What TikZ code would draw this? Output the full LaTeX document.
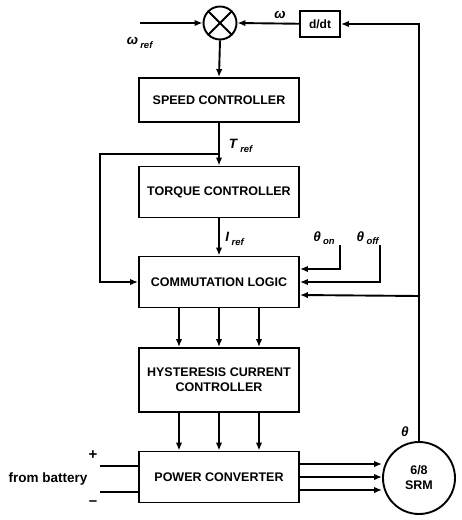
\documentclass[tikz,border=0pt]{standalone}
\usepackage{fontspec}
\setmainfont{Liberation Sans}
\usetikzlibrary{arrows.meta,positioning}

\newcommand{\sig}[2]{\textbf{\textit{#1}}\,\raisebox{-0.5ex}{\fontsize{9.5}{10}\selectfont\textbf{\textit{#2}}}}

\begin{document}
\begin{tikzpicture}[x=1pt,y=-1pt,->,>={Latex[length=8pt,width=6.5pt]},line width=1.9pt,
  font=\fontsize{12.5}{15}\selectfont\bfseries,
  block/.style={draw,rectangle,minimum width=160pt,minimum height=51pt,align=center,inner sep=2pt},
  lbl/.style={inner sep=1pt,font=\fontsize{13.5}{14}\selectfont}]

\useasboundingbox (0,0) rectangle (462,520);

\node[circle,draw,minimum size=33pt,inner sep=0pt] (sumj) at (220,23) {};
\node[block,minimum width=40pt,minimum height=26pt,font=\fontsize{12}{13}\selectfont\bfseries] (ddt) at (320,24) {d/dt};
\node[block,minimum height=44pt] (speed) at (219,100) {SPEED CONTROLLER};
\node[block] (torque) [below of=speed,node distance=92pt] {TORQUE CONTROLLER};
\node[block] (comm)   [below of=torque,node distance=90pt] {COMMUTATION LOGIC};
\node[block,minimum height=64pt] (hyst) [below of=comm,node distance=98pt] {HYSTERESIS CURRENT\\CONTROLLER};
\node[block] (power)  [below of=hyst,node distance=97pt] {POWER CONVERTER};
\node[circle,draw,minimum size=72pt,inner sep=0pt,align=center] (srm) at (419,478) {6/8\\SRM};

% summing junction cross
\draw[-] (sumj.north west) -- (sumj.south east);
\draw[-] (sumj.north east) -- (sumj.south west);

% free ends
\coordinate (wref)   at (140,23);
\coordinate (tbr)    at (220,154);
\coordinate (tleft)  at (100,154);
\coordinate (on)     at (340,245);
\coordinate (off)    at (380,245);
\coordinate (fbk)    at (420,296);
\coordinate (bplus)  at (100,466);
\coordinate (bminus) at (100,492);

% labels
\node[lbl] (lw)    at (280,15)  {\textbf{\textit{ω}}};
\node[lbl] (lwref) at (140,43)  {\sig{ω}{ref}};
\node[lbl] (ltref) at (241,146) {\sig{T}{ref}};
\node[lbl] (liref) at (235,239) {\sig{I}{ref}};
\node[lbl] (lon)   at (324,238) {\sig{θ}{on}};
\node[lbl] (loff)  at (368,238) {\sig{θ}{off}};
\node[lbl] (lth)   at (405,432) {\textbf{\textit{θ}}};
\node[font=\fontsize{15}{16}\selectfont\bfseries] (lplus)  at (93,455) {+};
\node[font=\fontsize{15}{16}\selectfont\bfseries] (lminus) at (93,503) {–};
\node[font=\fontsize{13.5}{15}\selectfont\bfseries] (lbat) at (48,479) {from battery};

% speed loop
\draw (wref) -- (sumj.west);
\draw (ddt) -- (sumj.east);
\draw (srm.north) |- (ddt.east);
\draw (sumj.south) -- (speed.north);
\draw (speed.south) -- (torque.north);
\draw (tbr) -- (tleft) |- (comm.west);
\draw (torque.south) -- (comm.north);

% angles and position feedback
\draw (on) |- ([yshift=13pt]comm.east);
\draw (off) |- (comm.east);
\draw (fbk) -- ([yshift=-13pt]comm.east);

% phase signals
\foreach \dx in {-40,0,40}{
  \draw ([xshift=\dx pt]comm.south) -- ([xshift=\dx pt]hyst.north);
  \draw ([xshift=\dx pt]hyst.south) -- ([xshift=\dx pt]power.north);
}
\foreach \dy in {13,0,-13}
  \draw ([yshift=\dy pt]power.east) -- ([yshift=\dy pt]power.east -| srm.west);

% battery
\draw[-] (bplus) -- (bplus -| power.west);
\draw[-] (bminus) -- (bminus -| power.west);
\end{tikzpicture}
\end{document}
